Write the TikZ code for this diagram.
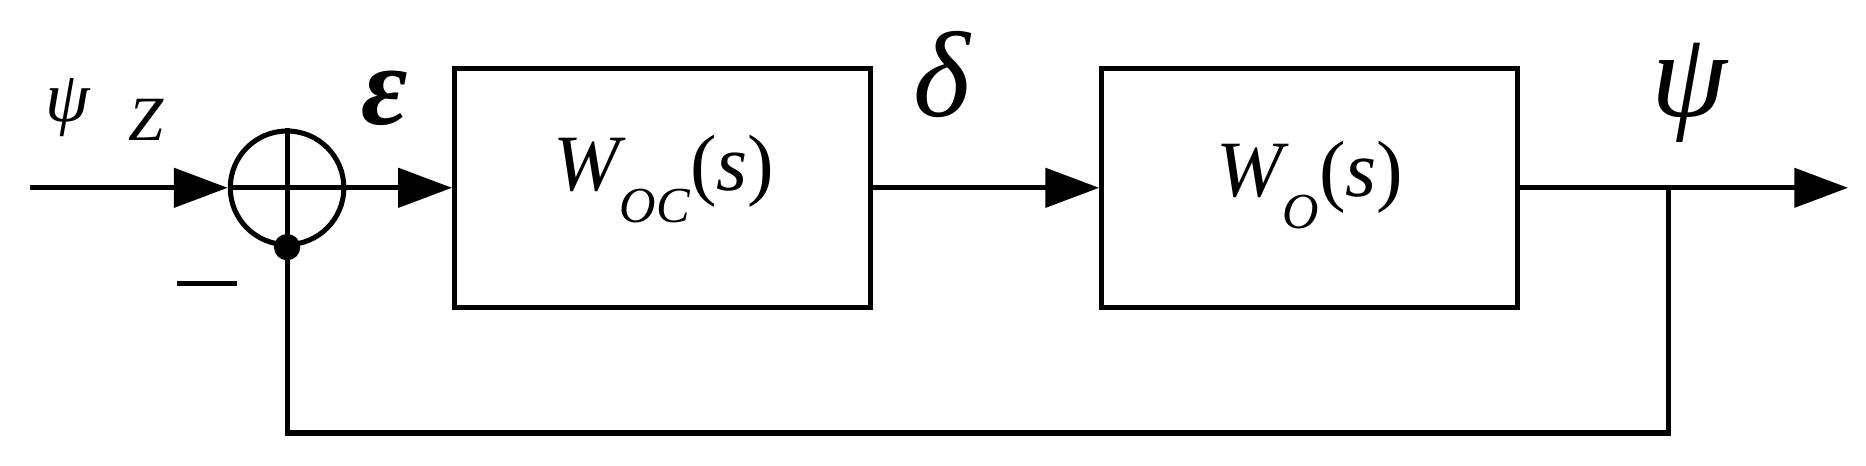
\documentclass[tikz,border=0pt]{standalone}
\usepackage{fontspec}
\setmainfont{Liberation Serif}
\usetikzlibrary{arrows.meta}
\begin{document}
\begin{tikzpicture}[x=0.02cm,y=-0.02cm,line width=2.4pt,
  blk/.style={draw,minimum width=6.96cm,minimum height=4cm,inner sep=0},
  arr/.style={-{Triangle[length=0.9cm,width=0.65cm]}},
  lbl/.style={font=\fontsize{38}{42}\selectfont\itshape}]
\useasboundingbox (0,0) rectangle (1560,389);
\node[blk] (b1) at (554,157) {};
\node[blk] (b2) at (1095,157) {};
\node[lbl] (t1) at (555,150) {W\raisebox{-0.4em}{\fontsize{24}{26}\selectfont OC}\upshape(\itshape s\upshape)};
\node[lbl] (t2) at (1095,155) {W\raisebox{-0.4em}{\fontsize{24}{26}\selectfont O}\upshape(\itshape s\upshape)};
\node[draw,circle,minimum size=1.9cm,inner sep=0] (c) at (240,157) {};
\draw (c.west) -- (c.east) (c.north) -- (c.south);
\fill (c.south) circle (0.22cm);
\coordinate (in) at (25,157);
\coordinate (out) at (1545,157);
\coordinate (br) at (1395,157);
\coordinate (r1) at (1395,362);
\coordinate (r2) at (240,362);
\draw[arr] (in) -- (c.west);
\draw[arr] (c.east) -- (b1.west);
\draw[arr] (b1.east) -- (b2.west);
\draw[arr] (b2.east) -- (out);
\draw (br) -- (r1) -- (r2) -- (c.south);
\draw (148,237) -- (198,237);
\node[font=\fontsize{34}{36}\selectfont\itshape] (psiz) at (57,90) {ψ};
\node[font=\fontsize{30}{32}\selectfont\itshape] (z) at (122,100) {Z};
\node[font=\fontsize{54}{58}\selectfont\itshape\bfseries] (eps) at (322,82) {ε};
\node[font=\fontsize{58}{62}\selectfont\itshape] (del) at (787,62) {δ};
\node[font=\fontsize{58}{62}\selectfont\itshape] (psi) at (1412,78) {ψ};
\end{tikzpicture}
\end{document}
